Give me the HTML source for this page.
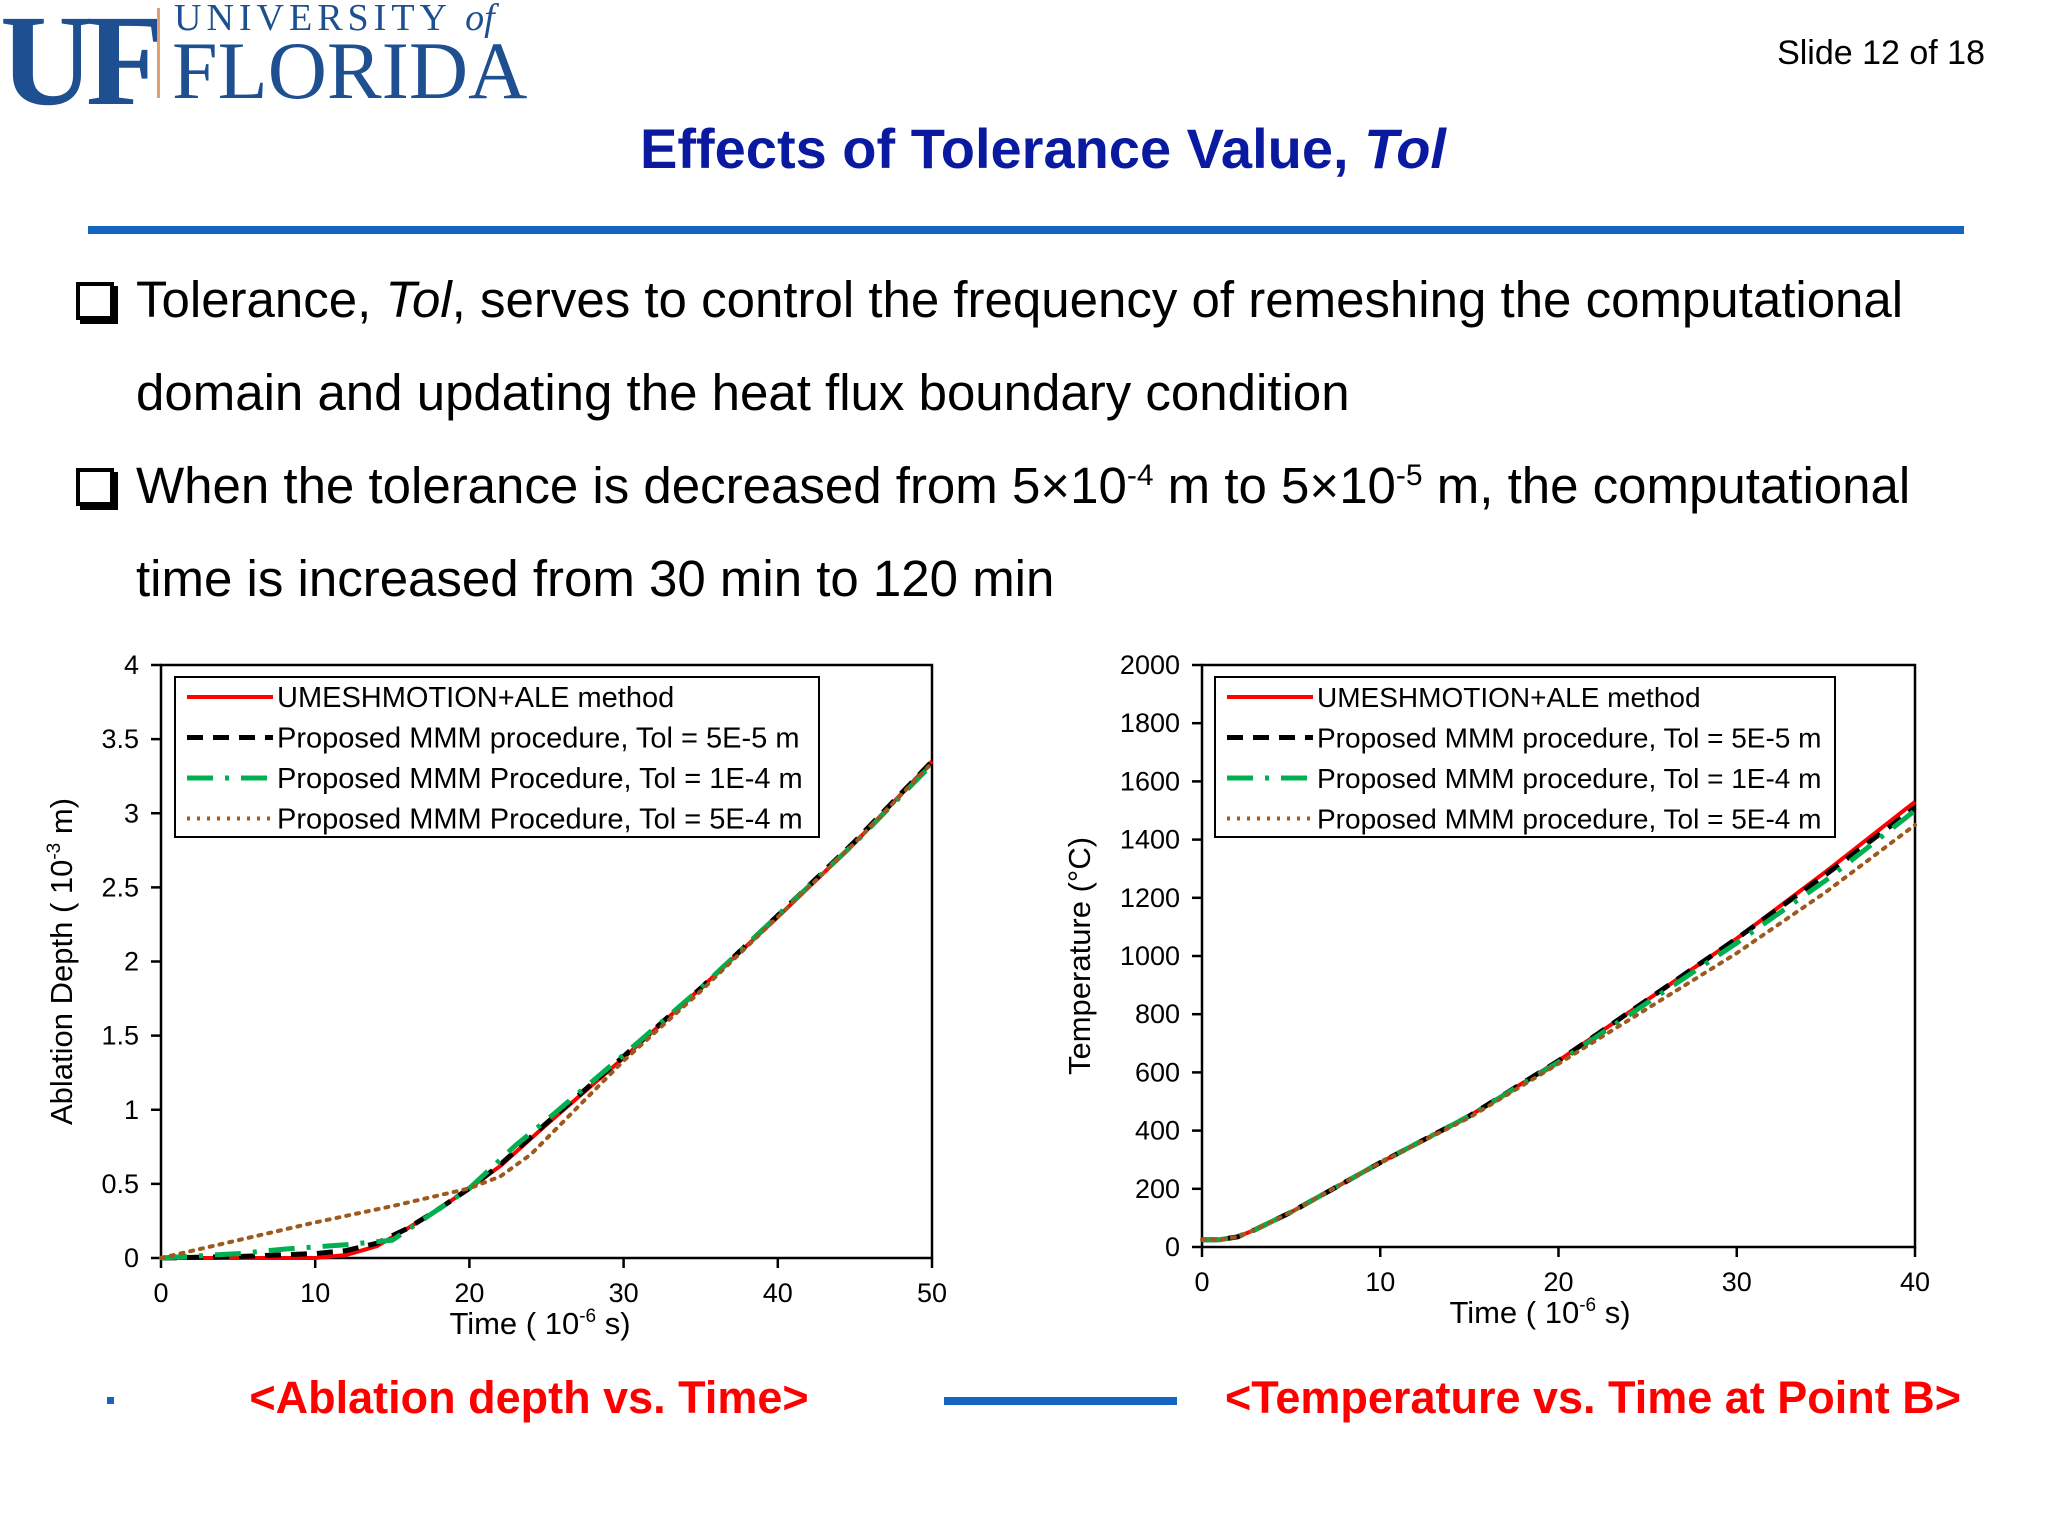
<!DOCTYPE html>
<html><head><meta charset="utf-8">
<style>
body{margin:0;width:2048px;height:1536px;background:#fff;overflow:hidden;position:relative;font-family:"Liberation Sans",sans-serif}
.abs{position:absolute;white-space:nowrap}
.bul{position:absolute;left:136px;font-size:51px;color:#000;line-height:60px}
.box{position:absolute;left:76px;width:30px;height:30px;border:4px solid #000;box-shadow:4px 4px 0 #000}
</style></head><body>
<div>
<div class="abs" style="left:0;top:-14px;font-family:'Liberation Serif',serif;font-weight:bold;font-size:130px;color:#1d4f91;letter-spacing:-8px;transform:scaleX(1.0);transform-origin:left">UF</div>
<div class="abs" style="left:157px;top:8px;width:3px;height:90px;background:#e0a070"></div>
<div class="abs" style="left:174px;top:-4px;font-family:'Liberation Serif',serif;font-size:38px;color:#1d4f91;letter-spacing:5px">UNIVERSITY <i style="letter-spacing:0">of</i></div>
<div class="abs" style="left:172px;top:24px;font-family:'Liberation Serif',serif;font-size:82px;color:#1d4f91;letter-spacing:0px">FLORIDA</div>
</div>
<div class="abs" style="right:63px;top:34px;font-size:34px">Slide 12 of 18</div>
<div class="abs" style="left:0;width:2086px;text-align:center;top:116px;font-size:56px;font-weight:bold;color:#0a1aa0">Effects of Tolerance Value, <i>Tol</i></div>
<div class="abs" style="left:88px;top:226px;width:1876px;height:8px;background:#1565c0"></div>
<div class="box" style="top:282px"></div>
<div class="bul" style="top:270px">Tolerance, <i>Tol</i>, serves to control the frequency of remeshing the computational</div>
<div class="bul" style="top:363px">domain and updating the heat flux boundary condition</div>
<div class="box" style="top:468px"></div>
<div class="bul" style="top:456px">When the tolerance is decreased from 5×10<sup style="font-size:30px;line-height:0">-4</sup> m to 5×10<sup style="font-size:30px;line-height:0">-5</sup> m, the computational</div>
<div class="bul" style="top:549px">time is increased from 30 min to 120 min</div>

<svg id="chart" class="abs" style="left:0;top:0" width="2048" height="1536" font-family="Liberation Sans, sans-serif"></svg>

<div class="abs" style="left:229px;width:600px;text-align:center;top:1372px;font-size:45px;font-weight:bold;color:#f00">&lt;Ablation depth vs. Time&gt;</div>
<div class="abs" style="left:1193px;width:800px;text-align:center;top:1372px;font-size:45px;font-weight:bold;color:#f00">&lt;Temperature vs. Time at Point B&gt;</div>
<div class="abs" style="left:944px;top:1397px;width:233px;height:8px;background:#1565c0"></div>
<div class="abs" style="left:107px;top:1397px;width:7px;height:7px;background:#1565c0"></div>

<script>
// Left chart data: ablation depth (1e-3 m) vs time (1e-6 s)
const leftRedX=[0,5,10,12,14,16,18,20,22,25,30,35,40,45,50];
const leftRedY=[0,0,0,0.02,0.08,0.2,0.33,0.47,0.62,0.9,1.35,1.82,2.3,2.8,3.35];
const leftBlackX=[0,5,10,12,14,16,18,20,22,25,30,35,40,45,50];
const leftBlackY=[0,0.01,0.03,0.05,0.1,0.2,0.33,0.47,0.63,0.91,1.36,1.82,2.31,2.81,3.35];
const leftGreenX=[0,5,8,12,15,18,20,23,25,30,35,40,45,50];
const leftGreenY=[0,0.03,0.06,0.09,0.12,0.33,0.47,0.76,0.93,1.37,1.82,2.31,2.8,3.33];
const leftBrownX=[0,5,10,15,20,22,24,26,30,35,40,45,50];
const leftBrownY=[0,0.12,0.24,0.35,0.47,0.55,0.7,0.91,1.33,1.8,2.3,2.8,3.34];
const leftXTicks=[0,10,20,30,40,50];
const leftYTicks=[0,0.5,1,1.5,2,2.5,3,3.5,4];
// Right chart data: temperature (C) vs time
const rightRedX=[0,1,2,3,5,10,15,20,25,30,35,40];
const rightRedY=[25,25,35,60,120,290,450,640,850,1060,1290,1530];
const rightBlackX=[0,1,2,3,5,10,15,20,25,30,35,40];
const rightBlackY=[25,25,35,60,120,290,450,640,850,1060,1280,1510];
const rightGreenX=[0,1,2,3,5,10,15,20,25,30,35,40];
const rightGreenY=[25,25,35,60,120,290,450,635,840,1045,1260,1500];
const rightBrownX=[0,1,2,3,5,10,15,20,25,30,35,40];
const rightBrownY=[25,25,35,60,120,290,445,630,820,1010,1220,1450];
const rightXTicks=[0,10,20,30,40];
const rightYTicks=[0,200,400,600,800,1000,1200,1400,1600,1800,2000];
const legendLeft=["UMESHMOTION+ALE method","Proposed MMM procedure, Tol = 5E-5 m","Proposed MMM Procedure, Tol = 1E-4 m","Proposed MMM Procedure, Tol = 5E-4 m"];
const legendRight=["UMESHMOTION+ALE method","Proposed MMM procedure, Tol = 5E-5 m","Proposed MMM procedure, Tol = 1E-4 m","Proposed MMM procedure, Tol = 5E-4 m"];

const svg=document.getElementById('chart');
const NS='http://www.w3.org/2000/svg';
function mk(tag,attrs,parent){const e=document.createElementNS(NS,tag);for(const k in attrs)e.setAttribute(k,attrs[k]);(parent||svg).appendChild(e);return e;}
const styles=[
 {stroke:'#f00',w:4,dash:''},
 {stroke:'#000',w:5,dash:'16 10'},
 {stroke:'#00b050',w:5,dash:'26 12 4 12'},
 {stroke:'#9c5a1e',w:4,dash:'3 7'}];

function drawChart(c){
 const sx=v=>c.x0+(v-c.xmin)/(c.xmax-c.xmin)*(c.x1-c.x0);
 const sy=v=>c.y0-(v-c.ymin)/(c.ymax-c.ymin)*(c.y0-c.y1);
 const g=mk('g',{});
 
 
 const frame=mk('rect',{x:c.x0,y:c.y1,width:c.x1-c.x0,height:c.y0-c.y1,fill:'none',stroke:'#000','stroke-width':2.5},g);
 
 
 c.xt.forEach(t=>{
  mk('line',{x1:sx(t),x2:sx(t),y1:c.y0,y2:c.y0+10,stroke:'#000','stroke-width':2.5},g);
  const tx=mk('text',{x:sx(t),y:c.y0+44,'text-anchor':'middle','font-size':27},g);tx.textContent=t;
  
  
 });
 c.yt.forEach(t=>{
  mk('line',{x1:c.x0-10,x2:c.x0,y1:sy(t),y2:sy(t),stroke:'#000','stroke-width':2.5},g);
  const tx=mk('text',{x:c.x0-22,y:sy(t)+9,'text-anchor':'end','font-size':27},g);tx.textContent=t;
  
  
 });
 const xl=mk('text',{x:c.xlx,y:c.y0+76,'text-anchor':'middle','font-size':31},g);
 xl.innerHTML='Time (  10<tspan dy="-12" font-size="19">-6</tspan><tspan dy="12"> s)</tspan>';
 
 
 const yl=mk('text',{transform:`translate(${c.ylx},${(c.y0+c.y1)/2}) rotate(-90)`,'text-anchor':'middle','font-size':31},g);
 yl.innerHTML=c.ytitle;
 
 
 c.series.forEach((s,i)=>{
  const d=s[0].map((x,j)=>(j?'L':'M')+sx(x).toFixed(1)+','+sy(s[1][j]).toFixed(1)).join('');
  const p=mk('path',{d:d,fill:'none',stroke:styles[i].stroke,'stroke-width':styles[i].w,'stroke-dasharray':styles[i].dash,'stroke-linecap':i==3?'round':'butt'},g);
  
  
 });
 const lg=mk('g',{},g);
 
 
 mk('rect',{x:c.lx,y:c.ly,width:c.lw,height:160,fill:'#fff',stroke:'#000','stroke-width':2},lg);
 c.legend.forEach((t,i)=>{
  const y=c.ly+20+i*40.5;
  mk('line',{x1:c.lx+12,x2:c.lx+98,y1:y,y2:y,stroke:styles[i].stroke,'stroke-width':styles[i].w,'stroke-dasharray':styles[i].dash},lg);
  const tx=mk('text',{x:c.lx+102,y:y+10,'font-size':c.lfs},lg);tx.textContent=t;
  
  
 });
}
drawChart({name:'ablation-chart',x0:161,x1:932,y0:1258,y1:665,xmin:0,xmax:50,ymin:0,ymax:4,xt:leftXTicks,yt:leftYTicks,
 xlx:540,ylx:72,ytitle:'Ablation Depth (  10<tspan dy="-12" font-size="19">-3</tspan><tspan dy="12"> m)</tspan>',
 series:[[leftRedX,leftRedY],[leftBlackX,leftBlackY],[leftGreenX,leftGreenY],[leftBrownX,leftBrownY]],
 legend:legendLeft,lx:175,ly:677,lw:644,lfs:29});
drawChart({name:'temperature-chart',x0:1202,x1:1915,y0:1247,y1:665,xmin:0,xmax:40,ymin:0,ymax:2000,xt:rightXTicks,yt:rightYTicks,
 xlx:1540,ylx:1090,ytitle:'Temperature (°C)',
 series:[[rightRedX,rightRedY],[rightBlackX,rightBlackY],[rightGreenX,rightGreenY],[rightBrownX,rightBrownY]],
 legend:legendRight,lx:1215,ly:677,lw:620,lfs:28});
</script>
</body></html>
